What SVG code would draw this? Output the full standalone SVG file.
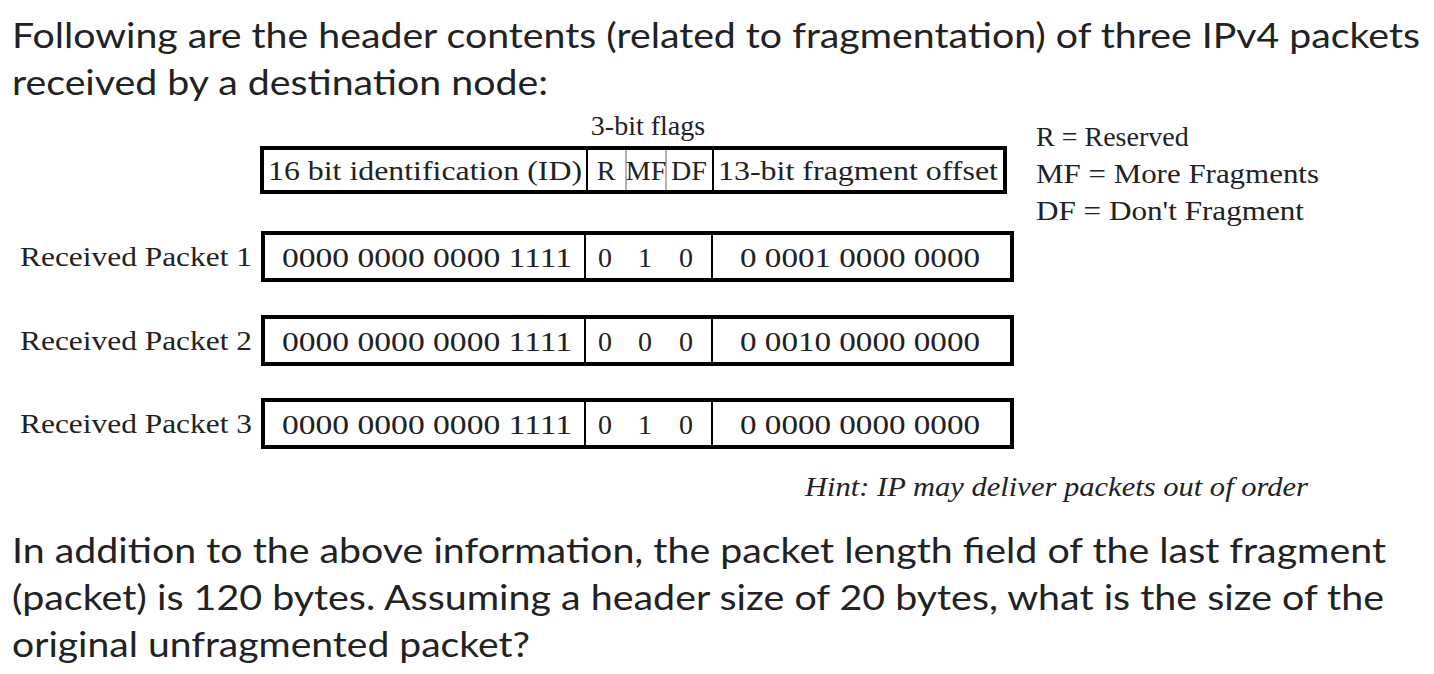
<svg xmlns="http://www.w3.org/2000/svg" width="1434" height="674" viewBox="0 0 1434 674">
<style>
.q{font-family:Lato,"Liberation Sans",sans-serif;font-size:34px;fill:#222}
.s{font-family:"Liberation Serif",serif;font-size:28px;fill:#222}
.b{fill:#fff;stroke:#000;stroke-width:4}
.d{stroke:#000;stroke-width:2}
.t{stroke:#666;stroke-width:1}
</style>
<rect width="1434" height="674" fill="#fff"/>
<g id="question-top">
<text class="q" x="12" y="48" textLength="1408" lengthAdjust="spacingAndGlyphs">Following are the header contents (related to fragmentation) of three IPv4 packets</text>
<text class="q" x="12" y="95" textLength="536" lengthAdjust="spacingAndGlyphs">received by a destination node:</text>
</g>
<g id="header">
<text class="s" x="648" y="135" text-anchor="middle">3-bit flags</text>
<rect class="b" x="262" y="148" width="743" height="44"/>
<line class="d" x1="587" y1="150" x2="587" y2="190"/>
<line class="t" x1="626" y1="150" x2="626" y2="190"/>
<line class="t" x1="666" y1="150" x2="666" y2="190"/>
<line class="d" x1="713" y1="150" x2="713" y2="190"/>
<text class="s" x="268" y="180" textLength="314" lengthAdjust="spacingAndGlyphs">16 bit identification (ID)</text>
<text class="s" x="606" y="180" text-anchor="middle">R</text>
<text class="s" x="646" y="180" text-anchor="middle">MF</text>
<text class="s" x="689" y="180" text-anchor="middle">DF</text>
<text class="s" x="718" y="180" textLength="280" lengthAdjust="spacingAndGlyphs">13-bit fragment offset</text>
</g>
<g id="legend">
<text class="s" x="1036" y="146">R = Reserved</text>
<text class="s" x="1036" y="183" textLength="283" lengthAdjust="spacingAndGlyphs">MF = More Fragments</text>
<text class="s" x="1036" y="220" textLength="268" lengthAdjust="spacingAndGlyphs">DF = Don't Fragment</text>
</g>
<g id="packet1">
<text class="s" x="20" y="266" textLength="232" lengthAdjust="spacingAndGlyphs">Received Packet 1</text>
<rect class="b" x="263" y="233" width="749" height="47"/>
<line class="d" x1="585" y1="235" x2="585" y2="278"/>
<line class="d" x1="712" y1="235" x2="712" y2="278"/>
<text class="s" x="282" y="267" textLength="290" lengthAdjust="spacingAndGlyphs">0000 0000 0000 1111</text>
<text class="s" x="605" y="267" text-anchor="middle">0</text><text class="s" x="645" y="267" text-anchor="middle">1</text><text class="s" x="686" y="267" text-anchor="middle">0</text>
<text class="s" x="860" y="267" text-anchor="middle" textLength="240" lengthAdjust="spacingAndGlyphs">0 0001 0000 0000</text>
</g>
<g id="packet2">
<text class="s" x="20" y="350" textLength="232" lengthAdjust="spacingAndGlyphs">Received Packet 2</text>
<rect class="b" x="263" y="317" width="749" height="47"/>
<line class="d" x1="585" y1="319" x2="585" y2="362"/>
<line class="d" x1="712" y1="319" x2="712" y2="362"/>
<text class="s" x="282" y="351" textLength="290" lengthAdjust="spacingAndGlyphs">0000 0000 0000 1111</text>
<text class="s" x="605" y="351" text-anchor="middle">0</text><text class="s" x="645" y="351" text-anchor="middle">0</text><text class="s" x="686" y="351" text-anchor="middle">0</text>
<text class="s" x="860" y="351" text-anchor="middle" textLength="240" lengthAdjust="spacingAndGlyphs">0 0010 0000 0000</text>
</g>
<g id="packet3">
<text class="s" x="20" y="433" textLength="232" lengthAdjust="spacingAndGlyphs">Received Packet 3</text>
<rect class="b" x="263" y="400" width="749" height="47"/>
<line class="d" x1="585" y1="402" x2="585" y2="445"/>
<line class="d" x1="712" y1="402" x2="712" y2="445"/>
<text class="s" x="282" y="434" textLength="290" lengthAdjust="spacingAndGlyphs">0000 0000 0000 1111</text>
<text class="s" x="605" y="434" text-anchor="middle">0</text><text class="s" x="645" y="434" text-anchor="middle">1</text><text class="s" x="686" y="434" text-anchor="middle">0</text>
<text class="s" x="860" y="434" text-anchor="middle" textLength="240" lengthAdjust="spacingAndGlyphs">0 0000 0000 0000</text>
</g>
<g id="hint">
<text class="s" x="805" y="496" font-style="italic" textLength="503" lengthAdjust="spacingAndGlyphs">Hint: IP may deliver packets out of order</text>
</g>
<g id="question-bottom">
<text class="q" x="12" y="563" textLength="1374" lengthAdjust="spacingAndGlyphs">In addition to the above information, the packet length field of the last fragment</text>
<text class="q" x="12" y="610" textLength="1372" lengthAdjust="spacingAndGlyphs">(packet) is 120 bytes. Assuming a header size of 20 bytes, what is the size of the</text>
<text class="q" x="12" y="657" textLength="518" lengthAdjust="spacingAndGlyphs">original unfragmented packet?</text>
</g>
<g id="connectors"/>
</svg>
